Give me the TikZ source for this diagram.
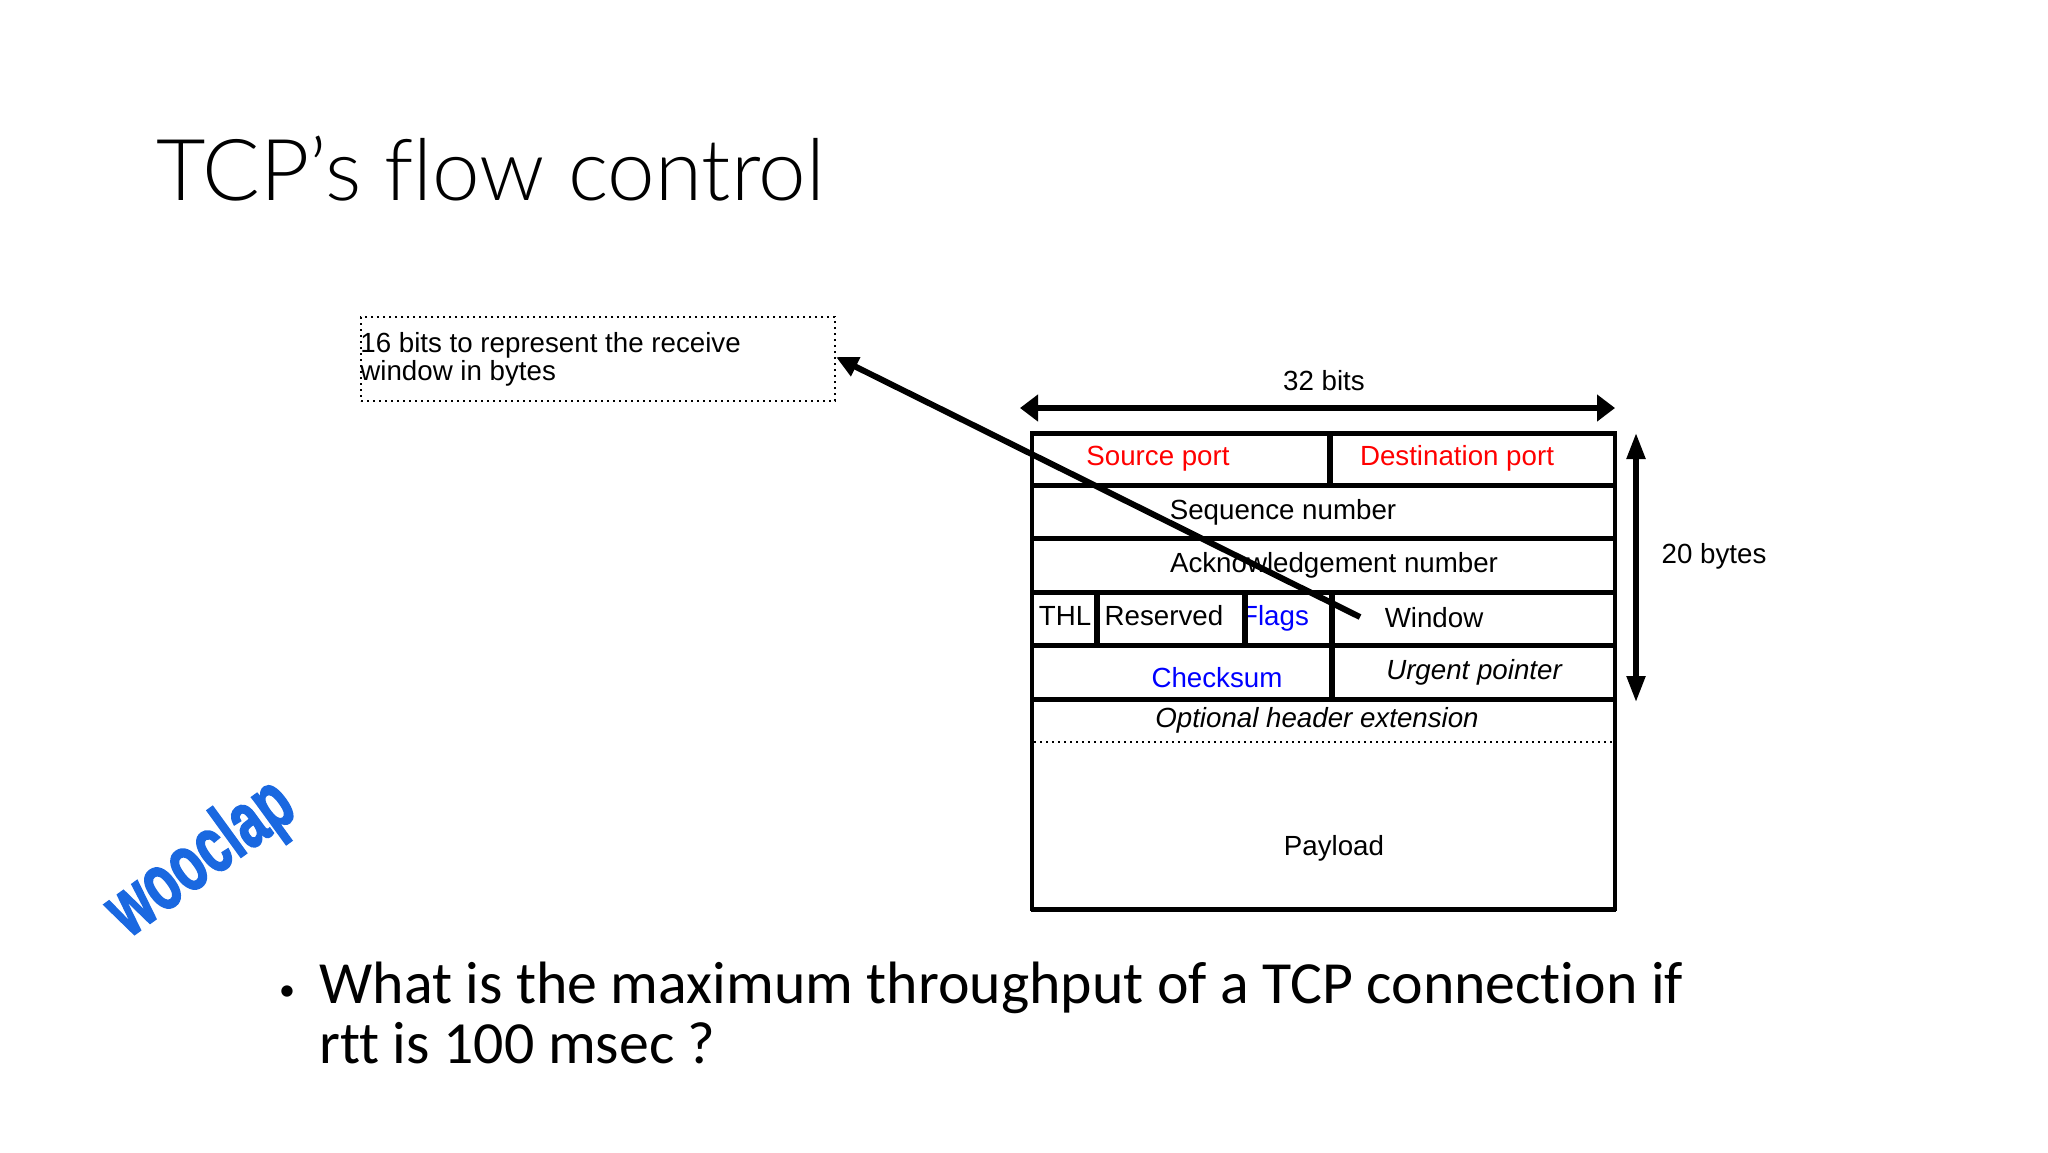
\documentclass[tikz,border=0pt]{standalone}
\usepackage{fontspec}
\setmainfont{Liberation Sans}
\newfontfamily\slidefont[Ligatures=NoCommon]{Carlito}
\newfontfamily\titlefont[Ligatures=NoCommon]{Lato Light}
\newfontfamily\logofont[FakeBold=2.5]{Liberation Sans Bold}
\usetikzlibrary{arrows.meta}
\definecolor{wooblue}{HTML}{1A68E0}
\tikzset{
  x=0.5pt,y=-0.5pt,
  frame/.style={line width=1.9pt,draw=black},
  rowline/.style={line width=2.5pt,draw=black},
  colline/.style={line width=2.8pt,draw=black},
  lab/.style={font=\fontsize{13.85}{16}\selectfont,inner sep=0pt,anchor=base},
  itlab/.style={lab,font=\itshape\fontsize{13.85}{16}\selectfont},
  widearrow/.style={line width=3.2pt,{Triangle[length=9pt,width=13pt]}-{Triangle[length=9pt,width=13pt]}},
  tallarrow/.style={line width=2.6pt,{Triangle[length=13pt,width=9pt]}-{Triangle[length=13pt,width=9pt]}},
  leader/.style={line width=3pt,-{Triangle[length=11pt,width=10pt]}},
}
\begin{document}
\begin{tikzpicture}
\useasboundingbox (0,0) rectangle (2048,1152);
\node[font=\titlefont\fontsize{42.7}{50}\selectfont,anchor=base west,inner sep=0pt,text=black] (title) at (156,200) {TCP’s flow control};
% note box
\node[draw,dotted,line width=1pt,inner sep=0pt,anchor=north west,minimum width=237pt,minimum height=42pt] (note) at (360,316) {};
\node[lab,anchor=base west] (n1) at (360,352) {16 bits to represent the receive};
\node[lab,anchor=base west] (n2) at (360,380) {window in bytes};
% labels
\node[lab,text=red] (sp) at (1158,465) {Source port};
\node[lab,text=red] (dp) at (1457,465) {Destination port};
\node[lab] (seq) at (1283,519) {Sequence number};
\node[lab] (ack) at (1334,572) {Acknowledgement number};
\node[lab] (thl) at (1065,625) {THL};
\node[lab] (res) at (1164,625) {Reserved};
\node[lab,text=blue] (flg) at (1275,625) {Flags};
\node[lab] (win) at (1434,627) {Window};
\node[lab,text=blue] (chk) at (1217,687) {Checksum};
\node[itlab] (urg) at (1474,679) {Urgent pointer};
\node[itlab] (opt) at (1317,727) {Optional header extension};
\node[lab] (pay) at (1334,855) {Payload};
\node[lab] (bits) at (1324,390) {32 bits};
\node[lab] (bytes) at (1714,563) {20 bytes};
% header frame
\coordinate (tl) at (1032,433);
\coordinate (br) at (1615,909);
\draw[frame] (tl) rectangle (br);
\foreach \name/\yy in {r0/433,r1/485,r2/538,r3/592,r4/645,r5/699,r6/909}{
  \draw[rowline] (1031,\yy) -- (1616,\yy) coordinate (\name);
}
\draw[line width=1pt,dotted] (1034,742) -- (1613,742);
\draw[colline] (1330,433) -- (1330,485);
\draw[colline] (1332,592) -- (1332,699);
\draw[colline] (1097,592) -- (1097,645);
\draw[colline] (1245,592) -- (1245,645);
% arrows
\coordinate (hl) at (1020,408);
\coordinate (hr) at (1615,408);
\draw[widearrow] (hl) -- (hr);
\coordinate (vt) at (1636,433);
\coordinate (vb) at (1636,702);
\draw[tallarrow] (vt) -- (vb);
\coordinate (lead) at (1360,617);
\draw[leader] (lead) -- (note.east |- 357,357);
% wooclap
\node[font=\logofont\fontsize{33}{40}\selectfont,text=wooblue,rotate=36,xscale=0.8,yscale=1.2,inner sep=0pt] (logo) at (202,860) {wooclap};
% bullet
\node[font=\slidefont\fontsize{16}{20}\selectfont,inner sep=0pt,anchor=base] (bul) at (287,1000) {•};
\node[font=\slidefont\fontsize{29.9}{34}\selectfont,inner sep=0pt,anchor=base west] (q1) at (319,1003) {What is the maximum throughput of a TCP connection if};
\node[font=\slidefont\fontsize{29.9}{34}\selectfont,inner sep=0pt,anchor=base west] (q2) at (319,1063) {rtt is 100 msec ?};
\end{tikzpicture}
\end{document}
